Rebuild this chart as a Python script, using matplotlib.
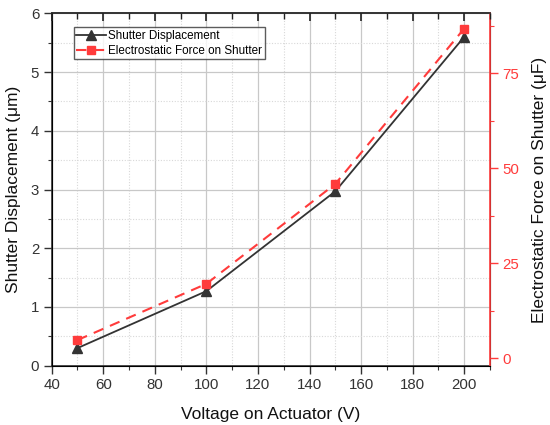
import numpy as np
import matplotlib
matplotlib.use("Agg")
import matplotlib.pyplot as plt
from matplotlib.ticker import MultipleLocator

plt.rcParams['font.family'] = ['Liberation Sans', 'DejaVu Sans']

voltage = [50, 100, 150, 200]
displacement = [0.30, 1.27, 2.97, 5.60]
force = [4.8, 19.6, 45.9, 86.8]

fig = plt.figure(figsize=(5.5, 4.25), dpi=100)
ax = fig.add_axes([0.094, 0.1395, 0.797, 0.8292])
ax2 = ax.twinx()

red = '#ff3b3b'
dark = '#333333'

l1, = ax.plot(voltage, displacement, color=dark, lw=1.3, marker='^', ms=7,
              label='Shutter Displacement')
l2, = ax2.plot(voltage, force, color=red, lw=1.5, ls=(0, (5, 3.5)), marker='s', ms=6,
               label='Electrostatic Force on Shutter')

ax.set_xlim(40, 210)
ax.set_ylim(0, 6)
ax2.set_ylim(-1.95, 90.8)

ax.xaxis.set_major_locator(MultipleLocator(20))
ax.xaxis.set_minor_locator(MultipleLocator(10))
ax.yaxis.set_major_locator(MultipleLocator(1))
ax.yaxis.set_minor_locator(MultipleLocator(0.5))
ax2.yaxis.set_major_locator(MultipleLocator(25))
ax2.yaxis.set_minor_locator(MultipleLocator(12.5))

ax.grid(which='major', color='#c8c8c8', lw=0.9)
ax.grid(which='minor', color='#d8d8d8', lw=0.8, ls=(0, (1, 1.5)))
ax.set_axisbelow(True)

ax.tick_params(axis='both', which='major', direction='out', length=6, width=1,
               labelsize=10.8, labelcolor=dark, color=dark, pad=3)
ax.tick_params(axis='both', which='minor', direction='out', length=3, width=0.8,
               color=dark)
ax2.tick_params(axis='y', which='major', direction='out', length=6, width=1,
                labelsize=10.8, labelcolor=red, color=red, pad=3)
ax2.tick_params(axis='y', which='minor', direction='out', length=3, width=0.8, color=red)

# third axes only for the inward ticks along the top edge
ax3 = ax.twiny()
ax3.set_xlim(ax.get_xlim())
ax3.xaxis.set_major_locator(MultipleLocator(20))
ax3.xaxis.set_minor_locator(MultipleLocator(10))
ax3.tick_params(axis='x', which='major', direction='in', length=6, width=1.2,
                color='#222222', labeltop=False)
ax3.tick_params(axis='x', which='minor', direction='in', length=4, width=1.0,
                color='#222222')
for s in ax3.spines.values():
    s.set_visible(False)

for s in ['left', 'bottom', 'top']:
    ax.spines[s].set_color(dark)
    ax.spines[s].set_linewidth(1.2)
ax2.spines['right'].set_color(red)
ax2.spines['right'].set_linewidth(1.2)
ax2.spines['top'].set_color(dark)
ax2.spines['top'].set_linewidth(1.2)

ax.set_xlabel('Voltage on Actuator (V)', fontsize=12.5, color='#111111', labelpad=11)
ax.set_ylabel('Shutter Displacement (\u03bcm)', fontsize=12.5, color='#111111', labelpad=7)
ax2.set_ylabel('Electrostatic Force on Shutter (\u03bcF)', fontsize=12.5, color='#111111',
               labelpad=9)

leg = ax3.legend(handles=[l1, l2], loc='upper left', bbox_to_anchor=(0.051, 0.96),
                 fontsize=8.4, frameon=True, fancybox=False, edgecolor=dark,
                 handlelength=2.5, handletextpad=0.25, borderpad=0.2, labelspacing=0.25,
                 borderaxespad=0)
leg.get_frame().set_linewidth(1.0)

fig.savefig('out.png', dpi=100)
